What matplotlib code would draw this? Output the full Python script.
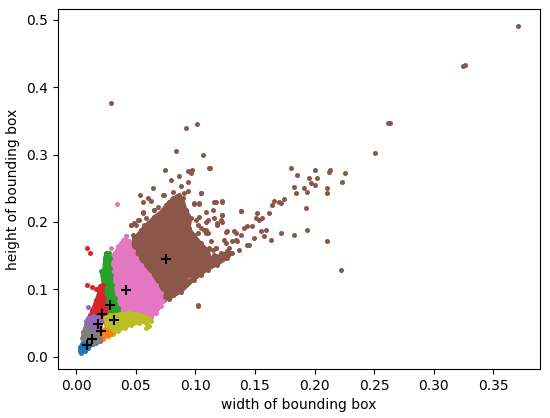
import matplotlib
matplotlib.use('Agg')
import matplotlib.pyplot as plt

# cluster colours (tab10 order used by the k-means plot)
CLUSTER_COLORS = {
    'blue': '#1f77b4', 'orange': '#ff7f0e', 'green': '#2ca02c',
    'red': '#d62728', 'purple': '#9467bd', 'brown': '#8c564b',
    'pink': '#e377c2', 'gray': '#7f7f7f', 'olive': '#bcbd22',
}

# dense parts of each cluster, outlined as (width, height) vertices
brown_core = [(.0446, .1612), (.0488, .1760), (.0544, .1884), (.0600, .1982),
              (.0656, .2081), (.0711, .2155), (.0753, .2253), (.0809, .2352),
              (.0865, .2401), (.0893, .2352), (.0921, .2179), (.0962, .2056),
              (.0948, .1908), (.0990, .1810), (.1046, .1686), (.1102, .1588),
              (.1130, .1464), (.1088, .1391), (.1032, .1341), (.0976, .1267),
              (.0921, .1144), (.0865, .1021), (.0809, .0922), (.0739, .0848),
              (.0697, .0873), (.0628, .1070), (.0572, .1218), (.0516, .1415),
              (.0460, .1538)]
brown_arm = [(.0809, .0922), (.0962, .1144), (.0962, .1317), (.1032, .1464),
             (.1102, .1415), (.1185, .1464), (.1269, .1563), (.1311, .1538),
             (.1269, .1464), (.1185, .1366), (.1102, .1292), (.1046, .1218),
             (.0990, .1144), (.0880, .0960), (.0780, .0860)]
pink_area = [(.0321, .1538), (.0285, .1464), (.0293, .1218), (.0301, .1070),
             (.0321, .0873), (.0349, .0725), (.0377, .0626), (.0446, .0651),
             (.0516, .0636), (.0572, .0601), (.0628, .0592), (.0670, .0651),
             (.0711, .0749), (.0725, .0823), (.0711, .0947), (.0670, .1070),
             (.0614, .1218), (.0544, .1366), (.0502, .1464), (.0474, .1563),
             (.0446, .1661), (.0419, .1735), (.0377, .1686), (.0349, .1612)]
green_area = [(.0246, .1538), (.0273, .1538), (.0285, .1464), (.0279, .1316),
              (.0293, .1218), (.0301, .1070), (.0321, .0873), (.0349, .0725),
              (.0377, .0626), (.0335, .0601), (.0293, .0601), (.0265, .0577),
              (.0246, .0725), (.0229, .0873), (.0223, .1070), (.0209, .1267),
              (.0229, .1292), (.0237, .1464)]
red_area = [(.0195, .1045), (.0223, .1070), (.0229, .0873), (.0246, .0725),
            (.0265, .0577), (.0246, .0488), (.0209, .0528), (.0181, .0592),
            (.0140, .0601), (.0117, .0616), (.0134, .0700), (.0167, .0848),
            (.0190, .0971)]
olive_area = [(.0237, .0577), (.0279, .0616), (.0363, .0636), (.0446, .0651),
              (.0516, .0636), (.0572, .0601), (.0614, .0577), (.0628, .0528),
              (.0586, .0503), (.0530, .0503), (.0460, .0468), (.0405, .0429),
              (.0349, .0380), (.0307, .0340), (.0265, .0380), (.0251, .0488)]
orange_area = [(.0195, .0380), (.0237, .0404), (.0265, .0380), (.0293, .0340),
               (.0265, .0306), (.0223, .0256), (.0195, .0232), (.0173, .0281)]
purple_area = [(.0084, .0528), (.0098, .0577), (.0140, .0601), (.0181, .0592),
               (.0209, .0528), (.0195, .0454), (.0173, .0380), (.0134, .0380),
               (.0098, .0429), (.0078, .0468)]
gray_area = [(.0050, .0281), (.0056, .0370), (.0070, .0429), (.0098, .0439),
             (.0126, .0389), (.0167, .0330), (.0195, .0281), (.0201, .0232),
             (.0167, .0207), (.0140, .0182), (.0112, .0173), (.0084, .0207),
             (.0056, .0222)]
blue_area = [(.0028, .0143), (.0050, .0192), (.0084, .0207), (.0117, .0182),
             (.0100, .0133), (.0070, .0084), (.0042, .0059), (.0028, .0084)]

# scattered single boxes
brown_w = [.0287, .0921, .1010, .0840, .1066, .0748, .0940, .0968, .1119, .0795,
           .0859, .0940, .0879, .0538, .0647, .0739, .0775, .0823, .0845, .0907,
           .1046, .0558, .0600, .1158, .1227, .0990, .1032, .0656, .0558, .0488,
           .0460, .0516, .0572, .1219, .1227, .1381, .1088, .1158, .1046, .1088,
           .1185, .1255, .1325, .1381, .1437, .1018, .3710, .3244, .3264, .2616,
           .2636, .2510,
           .0990, .1018, .1046, .1074, .1004, .0976, .1102, .1130, .1158, .1185,
           .1241, .1269, .1297, .1283, .1255, .1311, .1353, .1339, .1269, .1409,
           .1437, .1478, .1506, .1534, .1562, .1520, .1618, .1646, .1660, .1702,
           .1743, .1715, .1144, .1172, .1116, .1158, .1185, .1213, .1241, .1032,
           .1018, .1088, .1004, .1088, .1213, .1227, .1381, .1172, .1227, .0990,
           .1032, .1046, .1116, .1799, .1855, .1953, .2008, .2022, .2120, .2134,
           .2259, .2232, .1827, .1841, .1911, .1939, .1967, .2008, .2105, .2105,
           .1925, .1939, .1827, .1715, .1632, .1576, .1590, .1548, .1492, .1450,
           .1367, .1339, .2105, .2223, .1018, .0962,
           .0934, .0809, .0725, .0628, .0684, .0753, .0837, .1144, .0558, .0656,
           .0530, .0460, .0502, .0586, .1102, .1185, .1018, .1102, .0418, .0474,
           .1032, .1074, .1130, .1172, .1018, .0990]
brown_h = [.3772, .3397, .3457, .3052, .2993, .2771, .2756, .2771, .2796, .2623,
           .2682, .2589, .2539, .2401, .2510, .2401, .2303, .2352, .2392, .2426,
           .2426, .2293, .2352, .2303, .2303, .2263, .2263, .2179, .2130, .1982,
           .1958, .2032, .1958, .2106, .2007, .2165, .2155, .2056, .1908, .1884,
           .1958, .1849, .1859, .1810, .1662, .0759, .4916, .4315, .4324, .3471,
           .3476, .3028,
           .1464, .1366, .1415, .1317, .1218, .1193, .1366, .1366, .1391, .1415,
           .1464, .1514, .1538, .1612, .1686, .1711, .1711, .1834, .1859, .1908,
           .1933, .1933, .2056, .2032, .2056, .2130, .2130, .2253, .2313, .2303,
           .2342, .2278, .1588, .1612, .1612, .1514, .1489, .1538, .1736, .1637,
           .1834, .1834, .2032, .2007, .2032, .2106, .2165, .2303, .2313, .2278,
           .2278, .2426, .2796, .2796, .2697, .2648, .2771, .2648, .2747, .2771,
           .2722, .2599, .2525, .2426, .2500, .2451, .2574, .2549, .2500, .2426,
           .2204, .1884, .1810, .1834, .1736, .1785, .1884, .1859, .1760, .1652,
           .1588, .1736, .1711, .1292, .0774, .2722,
           .2461, .2451, .2401, .2313, .2229, .2229, .2278, .2179, .2145, .2179,
           .2032, .1958, .1948, .2056, .2032, .1982, .1958, .1834, .1785, .1810,
           .2081, .1884, .1711, .1612, .1662, .1563]
pink_w = [.0343, .0418, .0391, .0349, .0293, .0438, .0321]
pink_h = [.2263, .1785, .1736, .1637, .1612, .1711, .1514]
red_w = [.0092, .0112, .0089, .0134, .0167]
red_h = [.1612, .1538, .1070, .1030, .1011]
purple_w = [.0098]
purple_h = [.0735]
olive_w = [.0586, .0614]
olive_h = [.0429, .0454]

# cluster centres
centre_w = [.0092, .0135, .0178, .0209, .0217, .0320, .0285, .0416, .0750]
centre_h = [.0173, .0270, .0488, .0375, .0631, .0550, .0774, .0996, .1454]

areas = [('brown', brown_core), ('brown', brown_arm), ('pink', pink_area),
         ('green', green_area), ('red', red_area), ('olive', olive_area),
         ('orange', orange_area), ('purple', purple_area), ('gray', gray_area),
         ('blue', blue_area)]
singles = [('brown', brown_w, brown_h), ('pink', pink_w, pink_h),
           ('red', red_w, red_h), ('purple', purple_w, purple_h),
           ('olive', olive_w, olive_h)]

fig, ax = plt.subplots(figsize=(5.5, 4.18), dpi=100)
fig.subplots_adjust(left=0.105, right=0.982, top=0.978, bottom=0.117)

for name, pts in areas:
    c = CLUSTER_COLORS[name]
    xs = [p[0] for p in pts]
    ys = [p[1] for p in pts]
    ax.fill(xs, ys, color=c, ec=c, lw=2.0, joinstyle='round')
    ax.scatter(xs, ys, s=13, color=c, linewidths=0)

for name, w, h in singles:
    ax.scatter(w, h, s=13, color=CLUSTER_COLORS[name], linewidths=0)

ax.plot(centre_w, centre_h, '+', color='black', ms=7, mew=1.5)

ax.margins(0.05)
ax.set_xlabel('width of bounding box')
ax.set_ylabel('height of bounding box')
plt.savefig('out.png', dpi=100)
